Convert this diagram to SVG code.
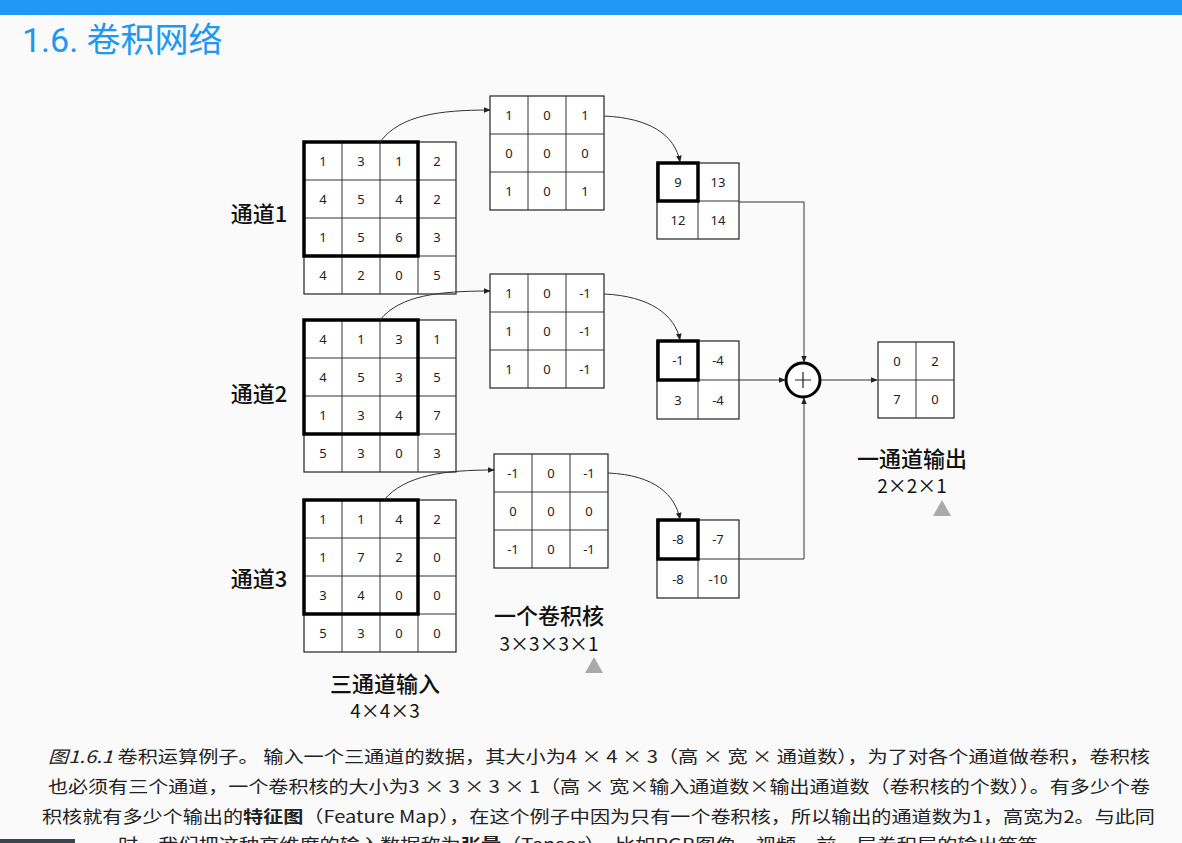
<svg xmlns="http://www.w3.org/2000/svg" width="1182" height="843" viewBox="0 0 1182 843">
<style>
.c{fill:#fff;stroke:#222;stroke-width:1.2}
.t{font-family:"Noto Sans","Noto Sans CJK SC",sans-serif;font-size:13px;text-anchor:middle;fill:#222}
.b{fill:none;stroke:#000;stroke-width:3.5}
.l{font-family:"Noto Sans CJK SC",sans-serif;font-size:22px;font-weight:500;fill:#111;text-anchor:middle}
.d{font-family:"Noto Sans CJK SC",sans-serif;font-size:19px;fill:#111;text-anchor:middle}
.w{fill:none;stroke:#333;stroke-width:1}
.cap{font-family:"Noto Sans CJK SC",sans-serif;font-size:17px;fill:#222}
</style>
<defs><marker id="a" viewBox="0 0 10 10" refX="9" refY="5" markerWidth="7" markerHeight="7" orient="auto"><path d="M0,1L10,5L0,9z" fill="#222"/></marker></defs>
<rect width="1182" height="843" fill="#fafafa"/>
<rect width="1182" height="15" fill="#2196F3"/>
<text x="22" y="52" font-family="Roboto,'Noto Sans CJK SC',sans-serif" font-size="34" fill="#2196F3">1.6. 卷积网络</text>

<g id="in1">
<rect class="c" x="304" y="142" width="152" height="152"/>
<path class="w" d="M342,142V294M380,142V294M418,142V294M304,180H456M304,218H456M304,256H456"/>
<rect class="b" x="304" y="142" width="114" height="114"/>
<g class="t"><text x="323" y="166">1</text><text x="361" y="166">3</text><text x="399" y="166">1</text><text x="437" y="166">2</text>
<text x="323" y="204">4</text><text x="361" y="204">5</text><text x="399" y="204">4</text><text x="437" y="204">2</text>
<text x="323" y="242">1</text><text x="361" y="242">5</text><text x="399" y="242">6</text><text x="437" y="242">3</text>
<text x="323" y="280">4</text><text x="361" y="280">2</text><text x="399" y="280">0</text><text x="437" y="280">5</text></g>
<text class="l" x="259" y="222">通道1</text></g>

<g id="in2">
<rect class="c" x="304" y="320" width="152" height="152"/>
<path class="w" d="M342,320V472M380,320V472M418,320V472M304,358H456M304,396H456M304,434H456"/>
<rect class="b" x="304" y="320" width="114" height="114"/>
<g class="t"><text x="323" y="344">4</text><text x="361" y="344">1</text><text x="399" y="344">3</text><text x="437" y="344">1</text>
<text x="323" y="382">4</text><text x="361" y="382">5</text><text x="399" y="382">3</text><text x="437" y="382">5</text>
<text x="323" y="420">1</text><text x="361" y="420">3</text><text x="399" y="420">4</text><text x="437" y="420">7</text>
<text x="323" y="458">5</text><text x="361" y="458">3</text><text x="399" y="458">0</text><text x="437" y="458">3</text></g>
<text class="l" x="259" y="402">通道2</text></g>

<g id="in3">
<rect class="c" x="304" y="500" width="152" height="152"/>
<path class="w" d="M342,500V652M380,500V652M418,500V652M304,538H456M304,576H456M304,614H456"/>
<rect class="b" x="304" y="500" width="114" height="114"/>
<g class="t"><text x="323" y="524">1</text><text x="361" y="524">1</text><text x="399" y="524">4</text><text x="437" y="524">2</text>
<text x="323" y="562">1</text><text x="361" y="562">7</text><text x="399" y="562">2</text><text x="437" y="562">0</text>
<text x="323" y="600">3</text><text x="361" y="600">4</text><text x="399" y="600">0</text><text x="437" y="600">0</text>
<text x="323" y="638">5</text><text x="361" y="638">3</text><text x="399" y="638">0</text><text x="437" y="638">0</text></g>
<text class="l" x="259" y="587">通道3</text></g>

<g id="k1">
<rect class="c" x="490" y="96" width="114" height="114"/>
<path class="w" d="M528,96V210M566,96V210M490,134H604M490,172H604"/>
<g class="t"><text x="509" y="120">1</text><text x="547" y="120">0</text><text x="585" y="120">1</text>
<text x="509" y="158">0</text><text x="547" y="158">0</text><text x="585" y="158">0</text>
<text x="509" y="196">1</text><text x="547" y="196">0</text><text x="585" y="196">1</text></g></g>

<g id="k2">
<rect class="c" x="490" y="274" width="114" height="114"/>
<path class="w" d="M528,274V388M566,274V388M490,312H604M490,350H604"/>
<g class="t"><text x="509" y="298">1</text><text x="547" y="298">0</text><text x="585" y="298">-1</text>
<text x="509" y="336">1</text><text x="547" y="336">0</text><text x="585" y="336">-1</text>
<text x="509" y="374">1</text><text x="547" y="374">0</text><text x="585" y="374">-1</text></g></g>

<g id="k3">
<rect class="c" x="494" y="454" width="114" height="114"/>
<path class="w" d="M532,454V568M570,454V568M494,492H608M494,530H608"/>
<g class="t"><text x="513" y="478">-1</text><text x="551" y="478">0</text><text x="589" y="478">-1</text>
<text x="513" y="516">0</text><text x="551" y="516">0</text><text x="589" y="516">0</text>
<text x="513" y="554">-1</text><text x="551" y="554">0</text><text x="589" y="554">-1</text></g>
<text class="l" x="549" y="624">一个卷积核</text>
<text class="d" x="549" y="651">3×3×3×1</text>
<path d="M585,673L594,657L603,673z" fill="#aaa"/></g>

<g id="o1">
<rect class="c" x="657" y="163" width="82" height="76"/>
<path class="w" d="M698,163V239M657,201H739"/>
<rect class="b" x="658" y="163" width="40" height="38"/>
<g class="t"><text x="678" y="187">9</text><text x="718" y="187">13</text><text x="678" y="225">12</text><text x="718" y="225">14</text></g></g>

<g id="o2">
<rect class="c" x="657" y="341" width="82" height="78"/>
<path class="w" d="M698,341V419M657,380H739"/>
<rect class="b" x="658" y="341" width="40" height="39"/>
<g class="t"><text x="678" y="365">-1</text><text x="718" y="365">-4</text><text x="678" y="405">3</text><text x="718" y="405">-4</text></g></g>

<g id="o3">
<rect class="c" x="657" y="520" width="82" height="78"/>
<path class="w" d="M698,520V598M657,559H739"/>
<rect class="b" x="658" y="520" width="40" height="39"/>
<g class="t"><text x="678" y="544">-8</text><text x="718" y="544">-7</text><text x="678" y="584">-8</text><text x="718" y="584">-10</text></g></g>

<g id="sum">
<circle cx="803" cy="380" r="17" fill="#fff" stroke="#000" stroke-width="3"/>
<path d="M803,372V388M795,380H811" stroke="#222" stroke-width="1.2"/></g>

<g id="out">
<rect class="c" x="878" y="342" width="76" height="76"/>
<path class="w" d="M916,342V418M878,380H954"/>
<g class="t"><text x="897" y="366">0</text><text x="935" y="366">2</text><text x="897" y="404">7</text><text x="935" y="404">0</text></g>
<text class="l" x="912" y="467">一通道输出</text>
<text class="d" x="912" y="493">2×2×1</text>
<path d="M933,516L942,500L951,516z" fill="#aaa"/></g>

<g id="inlabel">
<text class="l" x="385" y="692">三通道输入</text>
<text class="d" x="385" y="718">4×4×3</text></g>

<g id="connectors" fill="none" stroke="#333" stroke-width="1" marker-end="url(#a)">
<path d="M380,142C400,115 440,110 490,110"/>
<path d="M604,116C650,118 675,135 680,162"/>
<path d="M380,320C400,295 440,291 490,291"/>
<path d="M604,294C650,296 675,315 680,340"/>
<path d="M384,500C405,475 445,470 494,470"/>
<path d="M608,473C655,475 675,495 680,519"/>
<path d="M739,202H804V362"/>
<path d="M739,380H785"/>
<path d="M739,559H804V398"/>
<path d="M821,380H877"/>
</g>

<g class="cap">
<text x="48" y="763" textLength="1102" lengthAdjust="spacingAndGlyphs"><tspan font-style="italic">图1.6.1</tspan> 卷积运算例子。 输入一个三通道的数据，其大小为4 × 4 × 3（高 × 宽 × 通道数），为了对各个通道做卷积，卷积核</text>
<text x="48" y="793" textLength="1102" lengthAdjust="spacingAndGlyphs">也必须有三个通道，一个卷积核的大小为3 × 3 × 3 × 1（高 × 宽×输入通道数×输出通道数（卷积核的个数））。有多少个卷</text>
<text x="42" y="823" textLength="1113" lengthAdjust="spacingAndGlyphs">积核就有多少个输出的<tspan font-weight="bold">特征图</tspan>（Feature Map），在这个例子中因为只有一个卷积核，所以输出的通道数为1，高宽为2。与此同</text>
<text x="118" y="851" textLength="920" lengthAdjust="spacingAndGlyphs">时，我们把这种高维度的输入数据称为<tspan font-weight="bold">张量</tspan>（Tensor），比如RGB图像、视频、前一层卷积层的输出等等</text>
</g>
<rect x="0" y="839" width="75" height="4" fill="#37474f"/>
</svg>
